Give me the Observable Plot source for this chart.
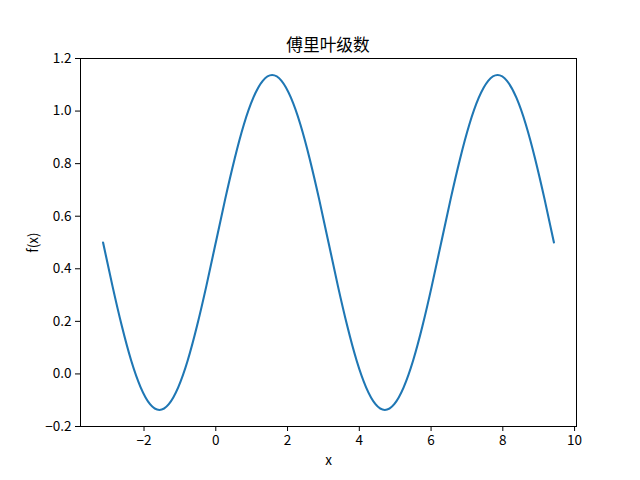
<!DOCTYPE html>
<html>
<head>
<meta charset="utf-8">
<script src="https://cdn.jsdelivr.net/npm/d3@7"></script>
<script src="https://cdn.jsdelivr.net/npm/@observablehq/plot@0.6"></script>
<style>
  body { margin: 0; background: #fff; width: 640px; height: 480px; overflow: hidden; }
  #title { width: 640px; height: 48px; box-sizing: border-box; padding-top: 34px; line-height: 20px;
           text-align: center; font-family: "Noto Sans CJK SC", sans-serif; font-size: 16.7px; color: #000; padding-left: 16px; }
</style>
</head>
<body>
<div id="title">傅里叶级数</div>
<div id="chart"></div>
<script>
const titleText = "傅里叶级数";
const xLabel = "x";
const yLabel = "f(x)";
const xTicks = [-2, 0, 2, 4, 6, 8, 10];
const yTicks = [-0.2, 0.0, 0.2, 0.4, 0.6, 0.8, 1.0, 1.2];
const xs = [-3.142, -2.880, -2.618, -2.356, -2.094, -1.833, -1.571, -1.309, -1.047, -0.785, -0.524, -0.262,
            0.000, 0.262, 0.524, 0.785, 1.047, 1.309, 1.571, 1.833, 2.094, 2.356, 2.618, 2.880,
            3.142, 3.403, 3.665, 3.927, 4.189, 4.451, 4.712, 4.974, 5.236, 5.498, 5.760, 6.021,
            6.283, 6.545, 6.807, 7.069, 7.330, 7.592, 7.854, 8.116, 8.378, 8.639, 8.901, 9.163, 9.425];
const ys = [0.500, 0.335, 0.182, 0.050, -0.051, -0.115, -0.137, -0.115, -0.051, 0.050, 0.182, 0.335,
            0.500, 0.665, 0.818, 0.950, 1.051, 1.115, 1.137, 1.115, 1.051, 0.950, 0.818, 0.665,
            0.500, 0.335, 0.182, 0.050, -0.051, -0.115, -0.137, -0.115, -0.051, 0.050, 0.182, 0.335,
            0.500, 0.665, 0.818, 0.950, 1.051, 1.115, 1.137, 1.115, 1.051, 0.950, 0.818, 0.665, 0.500];

const data = xs.map((x, i) => ({x, y: ys[i]}));
const xmin = d3.min(xs), xmax = d3.max(xs), xpad = (xmax - xmin) * 0.05;

const chart = Plot.plot({
  width: 640,
  height: 432,
  marginTop: 10,
  marginBottom: 54,
  marginLeft: 80,
  marginRight: 64,
  style: {fontFamily: "'Noto Sans CJK SC', sans-serif", fontSize: "13.5px", color: "#000", background: "#fff", overflow: "visible"},
  x: {domain: [xmin - xpad, xmax + xpad], ticks: xTicks, tickFormat: d => d3.format("d")(d).replace("-", "\u2212"),
      label: xLabel, labelAnchor: "center", labelArrow: "none", labelOffset: 38, tickSize: 5, tickPadding: 4},
  y: {domain: [-0.2, 1.2], ticks: yTicks, tickFormat: d => d3.format(".1f")(d).replace("-", "\u2212"),
      label: yLabel, labelAnchor: "center", labelArrow: "none", labelOffset: 52, tickSize: 5, tickPadding: 4},
  marks: [
    Plot.line(data, {x: "x", y: "y", stroke: "#1f77b4", strokeWidth: 2.1, curve: "natural"}),
    Plot.frame({stroke: "#000", strokeWidth: 1})
  ]
});
document.getElementById("chart").appendChild(chart);
</script>
</body>
</html>
